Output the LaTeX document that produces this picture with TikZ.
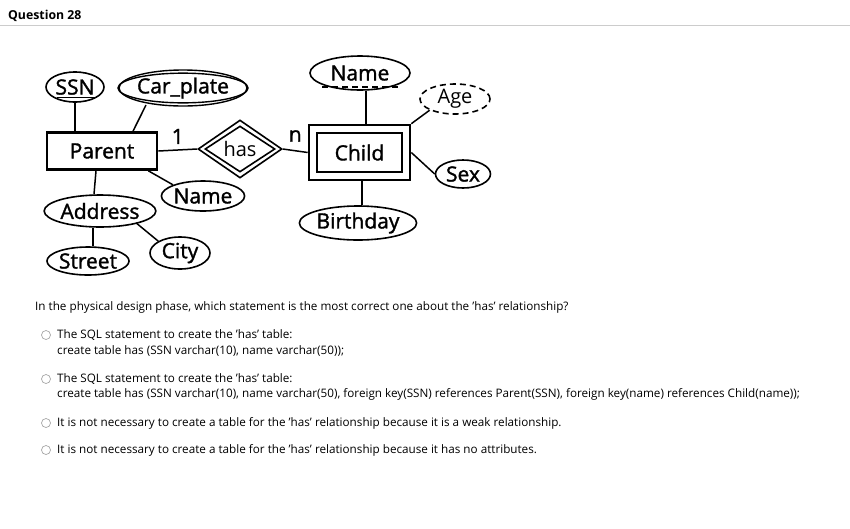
\documentclass[tikz,border=0pt]{standalone}
\usepackage{fontspec}
\setmainfont{Open Sans}
\newfontfamily\diagfont[FakeBold=1.5]{Open Sans}
\usetikzlibrary{shapes.geometric}
\begin{document}
\begin{tikzpicture}[x=1pt,y=-1pt,
  dfont/.style={font=\diagfont\fontsize{21}{21}\selectfont},
  attr/.style={draw,ellipse,line width=1.6pt,inner sep=0pt,dfont},
  ent/.style={draw,rectangle,line width=2.6pt,inner sep=0pt,dfont},
  conn/.style={line width=1.5pt},
  qtext/.style={anchor=west,font=\fontsize{11.7}{12}\selectfont,inner sep=0pt},
  radio/.style={draw=gray!70,circle,minimum size=9pt,inner sep=0pt,line width=0.7pt}]
\useasboundingbox (0,0) rectangle (850,528);
\node[anchor=west,inner sep=0pt,font=\bfseries\fontsize{12.3}{13}\selectfont] (q) at (8,16) {Question 28};
\draw[gray!40,line width=1pt] (0,25) -- (850,25);
% entities
\node[ent,minimum width=110pt,minimum height=37pt] (parent) at (102,151) {Parent};
\node[draw,rectangle,line width=2.6pt,minimum width=101pt,minimum height=55pt] (childo) at (359.5,152.5) {};
\node[draw,rectangle,line width=2.4pt,minimum width=85pt,minimum height=39pt,dfont] (child) at (359.5,152.5) {Child};
\node[draw,diamond,line width=1.6pt,minimum width=84pt,minimum height=58pt,aspect=1.45,inner sep=0pt] (hasO) at (240,149) {};
\node[draw,diamond,line width=1.6pt,minimum width=70pt,minimum height=46pt,aspect=1.5,inner sep=0pt,font=\fontsize{20}{20}\selectfont] (has) at (240,149) {has};
% attributes
\node[attr,minimum width=58pt,minimum height=30pt] (ssn) at (75,87) {SSN};
\draw[line width=1pt] (57,97) -- (95,97);
\node[attr,minimum width=128pt,minimum height=36pt,line width=1.4pt] (carO) at (183,88) {};
\node[attr,minimum width=118pt,minimum height=28pt,line width=1.4pt] (car) at (183,88) {Car\_plate};
\node[attr,minimum width=100pt,minimum height=34pt] (cname) at (360,73) {Name};
\draw[line width=1.6pt,dash pattern=on 6pt off 4pt] (322,87) -- (398,87);
\node[attr,dash pattern=on 6pt off 4pt,minimum width=70pt,minimum height=30pt,font=\fontsize{20}{20}\selectfont] (age) at (455,99) {Age};
\node[attr,minimum width=55pt,minimum height=28pt] (sex) at (463,174) {Sex};
\node[attr,minimum width=112pt,minimum height=34pt] (bday) at (358,223) {Birthday};
\node[attr,minimum width=80pt,minimum height=30pt] (pname) at (203,196) {Name};
\node[attr,minimum width=104pt,minimum height=32pt] (addr) at (100,211) {Address};
\node[attr,minimum width=82pt,minimum height=28pt] (street) at (88,261) {Street};
\node[attr,minimum width=60pt,minimum height=32pt] (city) at (180,253) {City};
% connectors
\coordinate (cpa) at (146,105);
\draw[conn] (ssn.south) -- (parent.north -| ssn.south);
\draw[conn] (cpa) -- (parent.north -| 133,0);
\draw[conn] (parent.east) -- node[above,dfont,yshift=2pt] (one) {1} (hasO.west);
\draw[conn] (hasO.east) -- node[above,dfont,yshift=5pt] (nlab) {n} (childo.west);
\draw[conn] (cname.south -| 366,0) -- (childo.north -| 366,0);
\draw[conn] (childo.north east) -- (age.south west);
\draw[conn] (childo.east) -- (sex.west);
\draw[conn] (childo.south -| 362,0) -- (bday.north -| 362,0);
\draw[conn] (parent.south east) ++(-10,0) coordinate (pse) -- (pname.north west);
\draw[conn] (parent.south -| 96,0) -- (addr.north -| 94,0);
\draw[conn] (addr.south -| 93,0) -- (street.north -| 93,0);
\draw[conn] (addr.south east) ++(-4,0) coordinate (ase) -- (city.north west);
% question
\node[qtext] (qt) at (35,307) {In the physical design phase, which statement is the most correct one about the 'has' relationship?};
\node[radio] (r1) at (46,335) {};
\node[qtext] (a1) at (57,335) {The SQL statement to create the 'has' table:};
\node[qtext] (a1b) at (57,351) {create table has (SSN varchar(10), name varchar(50));};
\node[radio] (r2) at (46,379) {};
\node[qtext] (a2) at (57,379) {The SQL statement to create the 'has' table:};
\node[qtext] (a2b) at (57,394) {create table has (SSN varchar(10), name varchar(50), foreign key(SSN) references Parent(SSN), foreign key(name) references Child(name));};
\node[radio] (r3) at (46,423) {};
\node[qtext] (a3) at (57,423) {It is not necessary to create a table for the 'has' relationship because it is a weak relationship.};
\node[radio] (r4) at (46,450) {};
\node[qtext] (a4) at (57,450) {It is not necessary to create a table for the 'has' relationship because it has no attributes.};
\end{tikzpicture}
\end{document}
